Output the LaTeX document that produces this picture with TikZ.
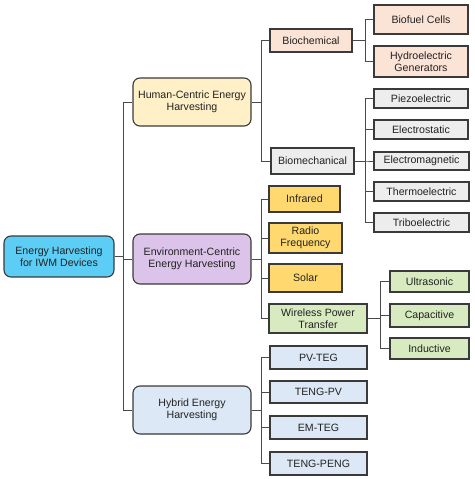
\documentclass[tikz,border=0pt]{standalone}
\usepackage{fontspec}
\setmainfont{Liberation Sans}
\definecolor{rootc}{HTML}{5CCDF5}
\definecolor{humc}{HTML}{FFF0C8}
\definecolor{envc}{HTML}{DCC3EA}
\definecolor{hybc}{HTML}{DCE8F6}
\definecolor{bioc}{HTML}{FBE3D6}
\definecolor{grayc}{HTML}{EDEDED}
\definecolor{yelc}{HTML}{FFD970}
\definecolor{grnc}{HTML}{D8EBC0}
\definecolor{linec}{HTML}{4A4A4A}
\definecolor{bordc}{HTML}{3A3A3A}
\definecolor{txtc}{HTML}{222222}
\tikzset{
  box/.style={draw=bordc, line width=1.1pt, inner sep=0pt, align=center, text=txtc,
    font=\fontsize{10.6}{11.6}\selectfont},
  rbox/.style={box, rounded corners=7pt},
  conn/.style={draw=linec, line width=1pt},
}
% \bx{name}{x1}{y1}{x2}{y2}{style}{text}
\newcommand{\bx}[7]{\node[#6, minimum width={(#4-#2)*1pt}, minimum height={(#5-#3)*1pt}] (#1) at ({(#2+#4)/2},{(#3+#5)/2}) {#7};}
\begin{document}
\begin{tikzpicture}[x=1pt,y=-1pt]
\useasboundingbox (0,0) rectangle (474,479);
% root and level 1
\bx{root}{4}{236}{114}{277}{rbox, fill=rootc}{Energy Harvesting\\for IWM Devices}
\bx{hum}{133}{78}{251}{126}{rbox, fill=humc}{Human-Centric Energy\\Harvesting}
\bx{env}{133}{234}{251}{284}{rbox, fill=envc}{Environment-Centric\\Energy Harvesting}
\bx{hyb}{133}{386}{251}{434}{rbox, fill=hybc}{Hybrid Energy\\Harvesting}
% human children
\bx{bch}{270}{29}{352}{52}{box, fill=bioc}{Biochemical}
\bx{bmc}{271}{148}{354}{174}{box, fill=grayc}{Biomechanical}
\bx{bfc}{374}{5}{468}{34}{box, fill=bioc}{Biofuel Cells}
\bx{hyg}{374}{46}{468}{77}{box, fill=bioc}{Hydroelectric\\Generators}
\bx{pze}{374}{89}{468}{108}{box, fill=grayc}{Piezoelectric}
\bx{est}{374}{120}{468}{139}{box, fill=grayc}{Electrostatic}
\bx{emg}{374}{152}{469}{170}{box, fill=grayc}{Electromagnetic}
\bx{thm}{374}{182}{469}{201}{box, fill=grayc}{Thermoelectric}
\bx{tri}{374}{213}{469}{232}{box, fill=grayc}{Triboelectric}
% environment children
\bx{ifr}{269}{186}{340}{212}{box, fill=yelc}{Infrared}
\bx{rfq}{269}{223}{342}{253}{box, fill=yelc}{Radio\\Frequency}
\bx{sol}{269}{264}{342}{292}{box, fill=yelc}{Solar}
\bx{wpt}{269}{304}{367}{333}{box, fill=grnc}{Wireless Power\\Transfer}
\bx{ult}{390}{271}{469}{292}{box, fill=grnc}{Ultrasonic}
\bx{cap}{390}{304}{469}{327}{box, fill=grnc}{Capacitive}
\bx{ind}{390}{338}{469}{359}{box, fill=grnc}{Inductive}
% hybrid children
\bx{pvt}{270}{346}{367}{369}{box, fill=hybc}{PV-TEG}
\bx{tpv}{270}{381}{367}{403}{box, fill=hybc}{TENG-PV}
\bx{emt}{270}{416}{367}{439}{box, fill=hybc}{EM-TEG}
\bx{tpg}{270}{452}{367}{475}{box, fill=hybc}{TENG-PENG}
% trunk x positions
\coordinate (t0) at (123,0);
\coordinate (t1) at (261,0);
\coordinate (t2) at (365,0);
\coordinate (t3) at (380,0);
% connectors
\foreach \c in {hum,env,hyb} \draw[conn] (root.east) -- (root.east -| t0) |- (\c.west);
\foreach \c in {bch,bmc} \draw[conn] (hum.east) -- (hum.east -| t1) |- (\c.west);
\foreach \c in {bfc,hyg} \draw[conn] (bch.east) -- (bch.east -| t2) |- (\c.west);
\foreach \c in {pze,est,emg,thm,tri} \draw[conn] (bmc.east) -- (bmc.east -| t2) |- (\c.west);
\foreach \c in {ifr,rfq,sol,wpt} \draw[conn] (env.east) -- (env.east -| t1) |- (\c.west);
\foreach \c in {ult,cap,ind} \draw[conn] (wpt.east) -- (wpt.east -| t3) |- (\c.west);
\foreach \c in {pvt,tpv,emt,tpg} \draw[conn] (hyb.east) -- (hyb.east -| t1) |- (\c.west);
\end{tikzpicture}
\end{document}
